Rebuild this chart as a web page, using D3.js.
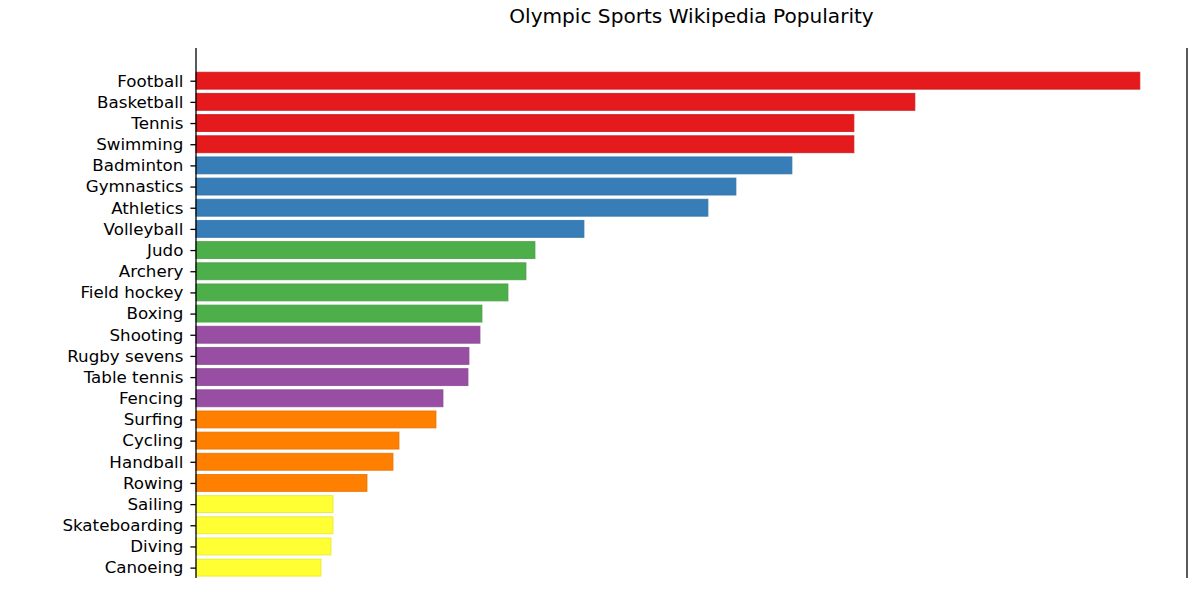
<!DOCTYPE html>
<html>
<head>
<meta charset="utf-8">
<script src="https://cdn.jsdelivr.net/npm/d3@7"></script>
<style>
  body { margin: 0; background: #fff; }
  svg { display: block; font-family: "DejaVu Sans", sans-serif; }
</style>
</head>
<body>
<svg class="chart"></svg>
<script>
var sports = ["Football", "Basketball", "Tennis", "Swimming", "Badminton", "Gymnastics",
    "Athletics", "Volleyball", "Judo", "Archery", "Field hockey", "Boxing", "Shooting",
    "Rugby sevens", "Table tennis", "Fencing", "Surfing", "Cycling", "Handball", "Rowing",
    "Sailing", "Skateboarding", "Diving", "Canoeing"];
var popularity = [944, 719, 658, 658, 596, 540, 512, 388, 339, 330, 312, 286, 284,
    273, 272, 247, 240, 203, 197, 171, 137, 137, 135, 125];
var groups = [0, 0, 0, 0, 1, 1, 1, 1, 2, 2, 2, 2, 3, 3, 3, 3, 4, 4, 4, 4, 5, 5, 5, 5];
var palette = ["#e41a1c", "#377eb8", "#4daf4a", "#984ea3", "#ff7f00", "#ffff33"];

function show() {
    'use strict';
    var width = 1200, height = 598;
    var left = 196, right = 1187, top = 48, bottom = 578;

    var svg = d3.select(".chart")
        .attr("width", width)
        .attr("height", height);

    var x = d3.scaleLinear()
        .domain([0, d3.max(popularity) * 1.05])
        .range([left, right]);

    // category index -> centre of bar (Football on top)
    var y = d3.scaleLinear()
        .domain([-1.545, 23.49])
        .range([top, bottom]);
    var barH = (y(1) - y(0)) * 0.8;

    var data = sports.map(function (s, i) {
        return {name: s, value: popularity[i], color: palette[groups[i]], i: i};
    });

    svg.selectAll("rect.bar").data(data).enter()
        .append("rect")
        .attr("class", "bar")
        .attr("x", x(0))
        .attr("y", function (d) { return y(d.i) - barH / 2; })
        .attr("width", function (d) { return x(d.value) - x(0); })
        .attr("height", barH)
        .attr("fill", function (d) { return d.color; })
        .attr("stroke", function (d) { return d3.color(d.color).darker(0.3); })
        .attr("stroke-opacity", 0.8)
        .attr("stroke-width", 1);

    // y axis with category labels
    var yAxis = d3.axisLeft(y)
        .tickValues(d3.range(sports.length))
        .tickFormat(function (i) { return sports[i]; })
        .tickSize(5.6)
        .tickPadding(7);

    var gy = svg.append("g")
        .attr("transform", "translate(" + left + ",0)")
        .call(yAxis);
    gy.select(".domain").remove();
    gy.selectAll(".tick line").attr("stroke", "#000").attr("stroke-width", 1.3);
    gy.selectAll(".tick text")
        .attr("fill", "#000")
        .style("font-family", "'DejaVu Sans', sans-serif")
        .style("font-size", "16.7px");

    // spines
    [left, right].forEach(function (sx) {
        svg.append("line")
            .attr("x1", sx).attr("x2", sx)
            .attr("y1", top).attr("y2", bottom)
            .attr("stroke", "#000")
            .attr("stroke-width", 1.3);
    });

    svg.append("text")
        .attr("x", (left + right) / 2)
        .attr("y", 23)
        .attr("text-anchor", "middle")
        .style("font-size", "20.1px")
        .attr("fill", "#000")
        .text("Olympic Sports Wikipedia Popularity");
}

show();
</script>
</body>
</html>
